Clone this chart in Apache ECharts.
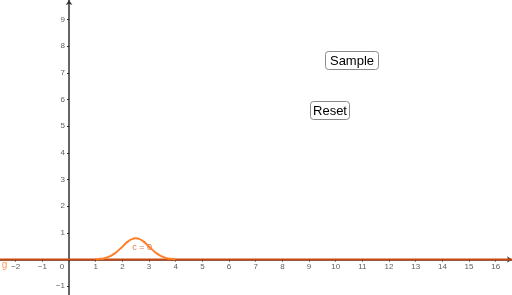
<!DOCTYPE html>
<html>
<head>
<meta charset="utf-8">
<script src="https://cdn.jsdelivr.net/npm/echarts@6/dist/echarts.min.js"></script>
<style>html,body{margin:0;padding:0;background:#fff}#c{width:512px;height:295px}</style>
</head>
<body>
<div id="c"></div>
<script>
// Data
const xTicks = [-2, -1, 0, 1, 2, 3, 4, 5, 6, 7, 8, 9, 10, 11, 12, 13, 14, 15, 16];
const yTicks = [-1, 1, 2, 3, 4, 5, 6, 7, 8, 9];
const curveX = [1.0,1.1,1.2,1.3,1.4,1.5,1.6,1.7,1.8,1.9,2.0,2.1,2.2,2.3,2.4,2.5,2.6,2.7,2.8,2.9,3.0,3.1,3.2,3.3,3.4,3.5,3.6,3.7,3.8,3.9,4.0];
const curveY = [0.01,0.02,0.03,0.04,0.07,0.11,0.16,0.22,0.30,0.39,0.48,0.58,0.67,0.74,0.78,0.80,0.78,0.74,0.67,0.58,0.48,0.39,0.30,0.22,0.16,0.11,0.07,0.04,0.03,0.02,0.01];
const gX = [-2.6, 16.61];
const gY = [0, 0];
const curveLabel = 'c = 0';
const gLabel = 'g';

const X_MIN = -2.59, X_MAX = 16.61, Y_MIN = -1.33, Y_MAX = 9.73;

const chart = echarts.init(document.getElementById('c'), null, {renderer: 'canvas'});
const font = 'Liberation Sans, Arial, sans-serif';
const fmt = v => v < 0 ? '\u2212' + Math.abs(v) : String(v);
chart.setOption({
  backgroundColor: '#fff',
  animation: false,
  grid: {left: 0, right: 0, top: 0, bottom: 0, containLabel: false, outerBoundsMode: 'none'},
  xAxis: {
    type: 'value', min: X_MIN, max: X_MAX,
    axisLine: {onZero: true, lineStyle: {color: '#333', width: 1.5}, symbol: ['none', 'arrow'], symbolSize: [5, 5]},
    axisTick: {show: true, customValues: xTicks, length: 2, lineStyle: {color: '#222'}},
    axisLabel: {show: false},
    splitLine: {show: false}
  },
  yAxis: {
    type: 'value', min: Y_MIN, max: Y_MAX,
    axisLine: {onZero: true, lineStyle: {color: '#333', width: 1.5}, symbol: ['none', 'arrow'], symbolSize: [5, 5]},
    axisTick: {show: true, customValues: yTicks, length: 2, lineStyle: {color: '#222'}},
    axisLabel: {show: false},
    splitLine: {show: false}
  },
  series: [
    {
      name: 'xTickLabels', type: 'scatter', silent: true, symbolSize: 0,
      data: xTicks.map(v => [v, 0]),
      label: {
        show: true, position: 'bottom', distance: 3, fontSize: 8, color: '#333', fontFamily: font,
        formatter: p => p.value[0] === 0 ? '{z|0}' : fmt(p.value[0]),
        rich: {z: {fontSize: 8, color: '#333', fontFamily: font, padding: [0, 14, 0, 0]}}
      }
    },
    {
      name: 'yTickLabels', type: 'scatter', silent: true, symbolSize: 0,
      data: yTicks.map(v => [0, v]),
      label: {
        show: true, position: 'left', distance: 4, fontSize: 8, color: '#333', fontFamily: font,
        formatter: p => fmt(p.value[1])
      }
    },
    {
      name: 'g', type: 'line', data: gX.map((x, i) => [x, gY[i]]),
      showSymbol: false, lineStyle: {color: '#c84a12', width: 2}, z: 3
    },
    {
      name: 'gLabel', type: 'scatter', data: [[-2.42, 0]], symbolSize: 0, silent: true,
      label: {show: true, formatter: gLabel, position: 'bottom', distance: 1, color: '#ff7f2a', fontSize: 10, fontFamily: font}
    },
    {
      name: 'c', type: 'line', data: curveX.map((x, i) => [x, curveY[i]]),
      smooth: true, showSymbol: false, lineStyle: {color: '#ff7f2a', width: 2}, z: 4
    },
    {
      name: 'cLabel', type: 'scatter', data: [[2.74, 0.44]], symbolSize: 0, silent: true,
      label: {show: true, formatter: curveLabel, position: 'inside', color: '#c85a2a', fontSize: 9, fontFamily: font}
    }
  ],
  graphic: [
    {type: 'rect', x: 325.5, y: 51.5, shape: {width: 53, height: 18, r: 3}, style: {fill: '#fff', stroke: '#8a8a8a', lineWidth: 1}},
    {type: 'text', x: 352, y: 61, style: {text: 'Sample', fontSize: 13, fontFamily: font, fill: '#000', align: 'center', verticalAlign: 'middle'}},
    {type: 'rect', x: 310.5, y: 101.5, shape: {width: 39, height: 18, r: 3}, style: {fill: '#fff', stroke: '#8a8a8a', lineWidth: 1}},
    {type: 'text', x: 330, y: 111, style: {text: 'Reset', fontSize: 13, fontFamily: font, fill: '#000', align: 'center', verticalAlign: 'middle'}}
  ]
});
</script>
</body>
</html>
